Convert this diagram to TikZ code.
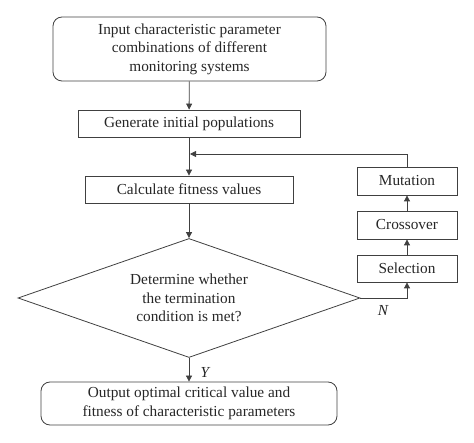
\documentclass[tikz,border=0pt]{standalone}
\usepackage{fontspec}
\setmainfont{Liberation Serif}
\usetikzlibrary{shapes.geometric,arrows.meta}
\begin{document}
\begin{tikzpicture}[x=1pt,y=-1pt,
  every node/.style={font=\fontsize{15.3}{18.5}\selectfont, text=black!85},
  box/.style={draw=black!75, line width=0.8pt, inner sep=0pt, align=center},
  rbox/.style={box, rounded corners=9pt},
  dec/.style={draw=black!75, line width=0.8pt, diamond, aspect=2.87, inner sep=0pt, align=center},
  conn/.style={draw=black!75, line width=0.8pt, -{Triangle[width=6pt,length=6pt]}},
  lbl/.style={font=\fontsize{15.3}{18.5}\selectfont\itshape}
]
\useasboundingbox (0,0) rectangle (474,443);
\node[rbox, minimum width=273pt, minimum height=64pt] (inp) at (189.5,49) {Input characteristic parameter\\combinations of different\\monitoring systems};
\node[box, minimum width=222pt, minimum height=27pt] (gen) at (189,123.5) {Generate initial populations};
\node[box, minimum width=208pt, minimum height=27pt] (calc) at (189,189.5) {Calculate fitness values};
\node[dec, minimum width=342pt, minimum height=119pt] (det) at (189,298) {Determine whether\\the termination\\condition is met?};
\node[rbox, minimum width=296pt, minimum height=43pt] (out) at (189,403.5) {Output optimal critical value and\\fitness of characteristic parameters};
\node[box, minimum width=100pt, minimum height=28pt] (mut) at (407,181) {Mutation};
\node[box, minimum width=100pt, minimum height=28pt] (cro) at (407,225) {Crossover};
\node[box, minimum width=100pt, minimum height=27pt] (sel) at (407,268.5) {Selection};
\coordinate (fb) at (190,154);
\coordinate (fbr) at (407,154);
\coordinate (nc) at (407,298);
\draw[conn] (inp) -- (gen);
\draw[conn] (gen) -- (calc);
\draw[conn] (calc) -- (det);
\draw[conn] (det) -- (out);
\draw[conn] (det.east) -- (nc) -- (sel.south);
\draw[conn] (sel) -- (cro);
\draw[conn] (cro) -- (mut);
\draw[conn] (mut.north) -- (fbr) -- (fb);
\node[lbl] (nl) at (383,310) {N};
\node[lbl] (yl) at (205,372) {Y};
\end{tikzpicture}
\end{document}
